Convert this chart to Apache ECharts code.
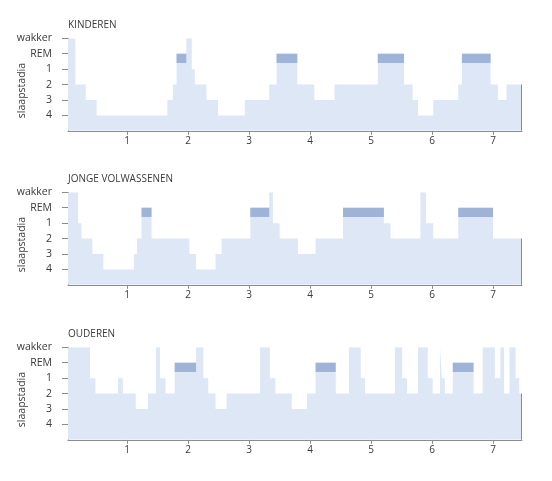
<!DOCTYPE html>
<html>
<head>
<meta charset="utf-8">
<script src="https://cdn.jsdelivr.net/npm/echarts@6/dist/echarts.min.js"></script>
<style>
html,body{margin:0;padding:0;background:#fff;}
#chart{width:552px;height:481px;}
</style>
</head>
<body>
<div id="chart"></div>
<script>
// ---- data ----
const xTicks = [1, 2, 3, 4, 5, 6, 7];
const stageLabels = ['4', '3', '2', '1', 'REM', 'wakker']; // bottom -> top
const panelTitles = ['KINDEREN', 'JONGE VOLWASSENEN', 'OUDEREN'];
const yAxisName = 'slaapstadia';
const nightStart = 0.03;
const nightEnd = 7.475;

// [start of period (hours), sleep stage]
const kinderen = [
  [0.03, 'wakker'], [0.15, '2'], [0.32, '3'], [0.50, '4'], [1.66, '3'], [1.75, '2'],
  [1.81, 'REM'], [1.97, 'wakker'], [2.06, '1'], [2.11, '2'], [2.30, '3'], [2.49, '4'],
  [2.93, '3'], [3.33, '2'], [3.45, 'REM'], [3.79, '2'], [4.07, '3'], [4.40, '2'],
  [5.11, 'REM'], [5.54, '2'], [5.68, '3'], [5.77, '4'], [6.02, '3'], [6.43, '2'],
  [6.49, 'REM'], [6.96, '2'], [7.08, '3'], [7.22, '2']
];
const jongeVolwassenen = [
  [0.03, 'wakker'], [0.197, '1'], [0.25, '2'], [0.43, '3'], [0.61, '4'], [1.11, '3'],
  [1.16, '2'], [1.236, 'REM'], [1.40, '2'], [2.02, '3'], [2.13, '4'], [2.45, '3'],
  [2.55, '2'], [3.02, 'REM'], [3.33, 'wakker'], [3.39, '1'], [3.50, '2'], [3.80, '3'],
  [4.09, '2'], [4.54, 'REM'], [5.21, '1'], [5.32, '2'], [5.81, 'wakker'], [5.90, '1'],
  [6.02, '2'], [6.43, 'REM'], [7.00, '2']
];
const ouderen = [
  [0.03, 'wakker'], [0.39, '1'], [0.48, '2'], [0.85, '1'], [0.93, '2'], [1.14, '3'],
  [1.34, '2'], [1.47, 'wakker'], [1.54, '1'], [1.63, '2'], [1.78, 'REM'], [2.13, 'wakker'],
  [2.25, '1'], [2.33, '2'], [2.45, '3'], [2.63, '2'], [3.18, 'wakker'], [3.34, '1'],
  [3.43, '2'], [3.70, '3'], [3.95, '2'], [4.09, 'REM'], [4.42, '2'], [4.64, 'wakker'],
  [4.83, '1'], [4.90, '2'], [5.39, 'wakker'], [5.51, '1'], [5.59, '2'], [5.77, 'wakker'],
  [5.93, '1'], [6.01, '2'], [6.13, 'wakker'], [6.16, '1'], [6.21, '2'], [6.34, 'REM'],
  [6.68, '2'], [6.83, 'wakker'], [7.03, '1'], [7.12, 'wakker'], [7.18, '2'], [7.27, 'wakker'],
  [7.37, '1'], [7.43, '2']
];
const panels = [kinderen, jongeVolwassenen, ouderen];

// ---- styling ----
const FONT = 'Open Sans';
const TEXT = '#3a3a3a';
const AXIS = '#8c8c8c';
const FILL = '#dde7f6';
const REMC = '#9fb3d9';
const REM_DEPTH = 0.6;

const gridTops = [38.3, 192.3, 347.3];
const gridH = 92.5;
const levelOf = s => stageLabels.indexOf(s) + 1;

const chart = echarts.init(document.getElementById('chart'), null, {renderer: 'canvas'});

const grids = [], xAxes = [], yAxes = [], series = [], titles = [], graphics = [];
panels.forEach((pd, i) => {
  grids.push({left: 68, top: gridTops[i], width: 454, height: gridH, containLabel: false});
  xAxes.push({
    type: 'value', gridIndex: i, min: nightStart, max: nightEnd,
    splitLine: {show: false},
    axisLine: {show: true, lineStyle: {color: AXIS, width: 1}},
    axisTick: {show: true, customValues: xTicks, length: 4, lineStyle: {color: AXIS}},
    axisLabel: {customValues: xTicks, color: TEXT, fontSize: 10, fontFamily: FONT, margin: 5}
  });
  yAxes.push({
    type: 'value', gridIndex: i, min: 0, max: stageLabels.length, interval: 1,
    splitLine: {show: false},
    axisLine: {show: true, lineStyle: {color: AXIS, width: 1}},
    axisTick: {show: true, customValues: stageLabels.map((s, k) => k + 1), length: 6, lineStyle: {color: AXIS}},
    axisLabel: {
      customValues: stageLabels.map((s, k) => k + 1),
      formatter: v => stageLabels[Math.round(v) - 1] || '',
      color: TEXT, fontSize: 10.5, fontFamily: FONT, margin: 16
    }
  });
  const pts = pd.map(d => [d[0], levelOf(d[1])]);
  const last = pts[pts.length - 1][1];
  pts.push([nightEnd, last]);
  series.push({
    type: 'line', xAxisIndex: i, yAxisIndex: i, step: 'end', data: pts,
    showSymbol: false, symbol: 'none', silent: true,
    lineStyle: {width: 0, opacity: 0},
    areaStyle: {color: FILL, opacity: 1, origin: 'start'},
    z: 1
  });
  const rems = [];
  pd.forEach((d, k) => {
    if (d[1] === 'REM') {
      const x1 = k + 1 < pd.length ? pd[k + 1][0] : nightEnd;
      rems.push([d[0], x1, levelOf('REM')]);
    }
  });
  series.push({
    type: 'custom', xAxisIndex: i, yAxisIndex: i, data: rems, silent: true, z: 3,
    encode: {x: [0, 1], y: 2},
    renderItem: (params, api) => {
      const p0 = api.coord([api.value(0), api.value(2)]);
      const p1 = api.coord([api.value(1), api.value(2) - REM_DEPTH]);
      return {type: 'rect', shape: {x: p0[0], y: p0[1], width: p1[0] - p0[0], height: p1[1] - p0[1]},
        style: {fill: REMC}};
    }
  });
  series.push({
    type: 'custom', xAxisIndex: i, yAxisIndex: i, data: [[nightEnd, last]], silent: true, z: 4,
    encode: {x: 0, y: 1},
    renderItem: (params, api) => {
      const a = api.coord([api.value(0), 0]);
      const b = api.coord([api.value(0), api.value(1)]);
      return {type: 'line', shape: {x1: a[0] - 0.5, y1: a[1], x2: b[0] - 0.5, y2: b[1]},
        style: {stroke: AXIS, lineWidth: 1}};
    }
  });
  titles.push({
    text: panelTitles[i], left: 63, top: gridTops[i] - 23,
    textStyle: {fontSize: 10, fontWeight: 'normal', color: TEXT, fontFamily: FONT}
  });
  graphics.push({
    type: 'text', x: 22, y: gridTops[i] + gridH / 2 + 6, rotation: Math.PI / 2,
    style: {text: yAxisName, fill: TEXT, font: '10.5px "' + FONT + '"', textAlign: 'center', textVerticalAlign: 'middle'}
  });
});

chart.setOption({
  animation: false,
  backgroundColor: '#fff',
  title: titles,
  grid: grids,
  xAxis: xAxes,
  yAxis: yAxes,
  series: series,
  graphic: graphics
});
</script>
</body>
</html>
